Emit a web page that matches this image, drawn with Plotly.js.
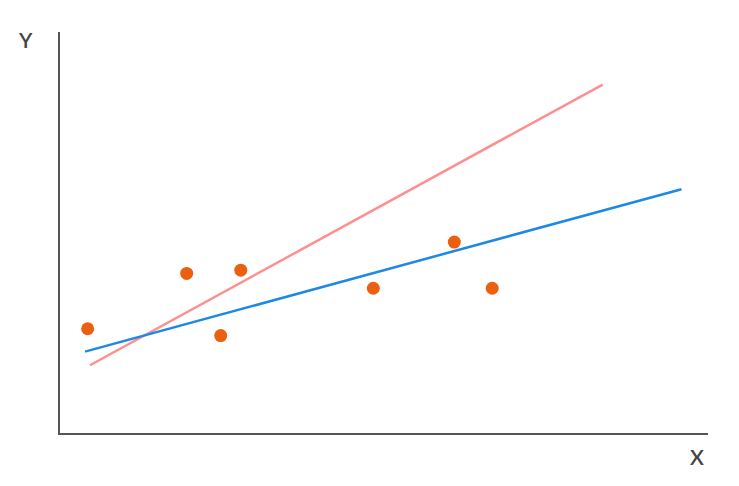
<!DOCTYPE html>
<html>
<head>
<meta charset="utf-8">
<script src="https://cdn.plot.ly/plotly-3.0.1.min.js"></script>
<style>html,body{margin:0;padding:0;background:#fff;}#chart{width:739px;height:486px;}</style>
</head>
<body>
<div id="chart"></div>
<script>
const pointsX = [4.27, 19.55, 24.8, 27.9, 48.35, 60.85, 66.7];
const pointsY = [26.0, 39.8, 24.3, 40.6, 36.1, 47.6, 36.1];
const blueX = [3.86, 95.9];
const blueY = [20.3, 60.8];
const pinkX = [4.63, 83.75];
const pinkY = [16.9, 86.9];
const xLabel = "X";
const yLabel = "Y";

const traces = [
  {x: pinkX, y: pinkY, mode: 'lines', line: {color: '#FF8F8F', width: 2.5}, hoverinfo: 'skip'},
  {x: blueX, y: blueY, mode: 'lines', line: {color: '#1E88E5', width: 2.5}, hoverinfo: 'skip'},
  {x: pointsX, y: pointsY, mode: 'markers', marker: {color: '#EA5F10', size: 13}}
];

const lblFont = {family: 'Lato, "Open Sans", sans-serif', size: 21, color: '#444', weight: 600};
const layout = {
  width: 739, height: 486,
  margin: {l: 60, r: 31, t: 32, b: 53},
  showlegend: false,
  paper_bgcolor: '#fff', plot_bgcolor: '#fff',
  xaxis: {range: [0, 100], showline: true, linecolor: '#555', linewidth: 2, showgrid: false, zeroline: false, showticklabels: false, ticks: ''},
  yaxis: {range: [0, 100], showline: true, linecolor: '#555', linewidth: 2, showgrid: false, zeroline: false, showticklabels: false, ticks: ''},
  annotations: [
    {text: yLabel, xref: 'paper', yref: 'paper', x: -0.054, y: 0.982, showarrow: false, xanchor: 'center', yanchor: 'middle', font: lblFont},
    {text: xLabel, xref: 'paper', yref: 'paper', x: 0.983, y: -0.058, showarrow: false, xanchor: 'center', yanchor: 'middle', font: lblFont}
  ]
};

Plotly.newPlot('chart', traces, layout, {displayModeBar: false, staticPlot: true});
</script>
</body>
</html>
